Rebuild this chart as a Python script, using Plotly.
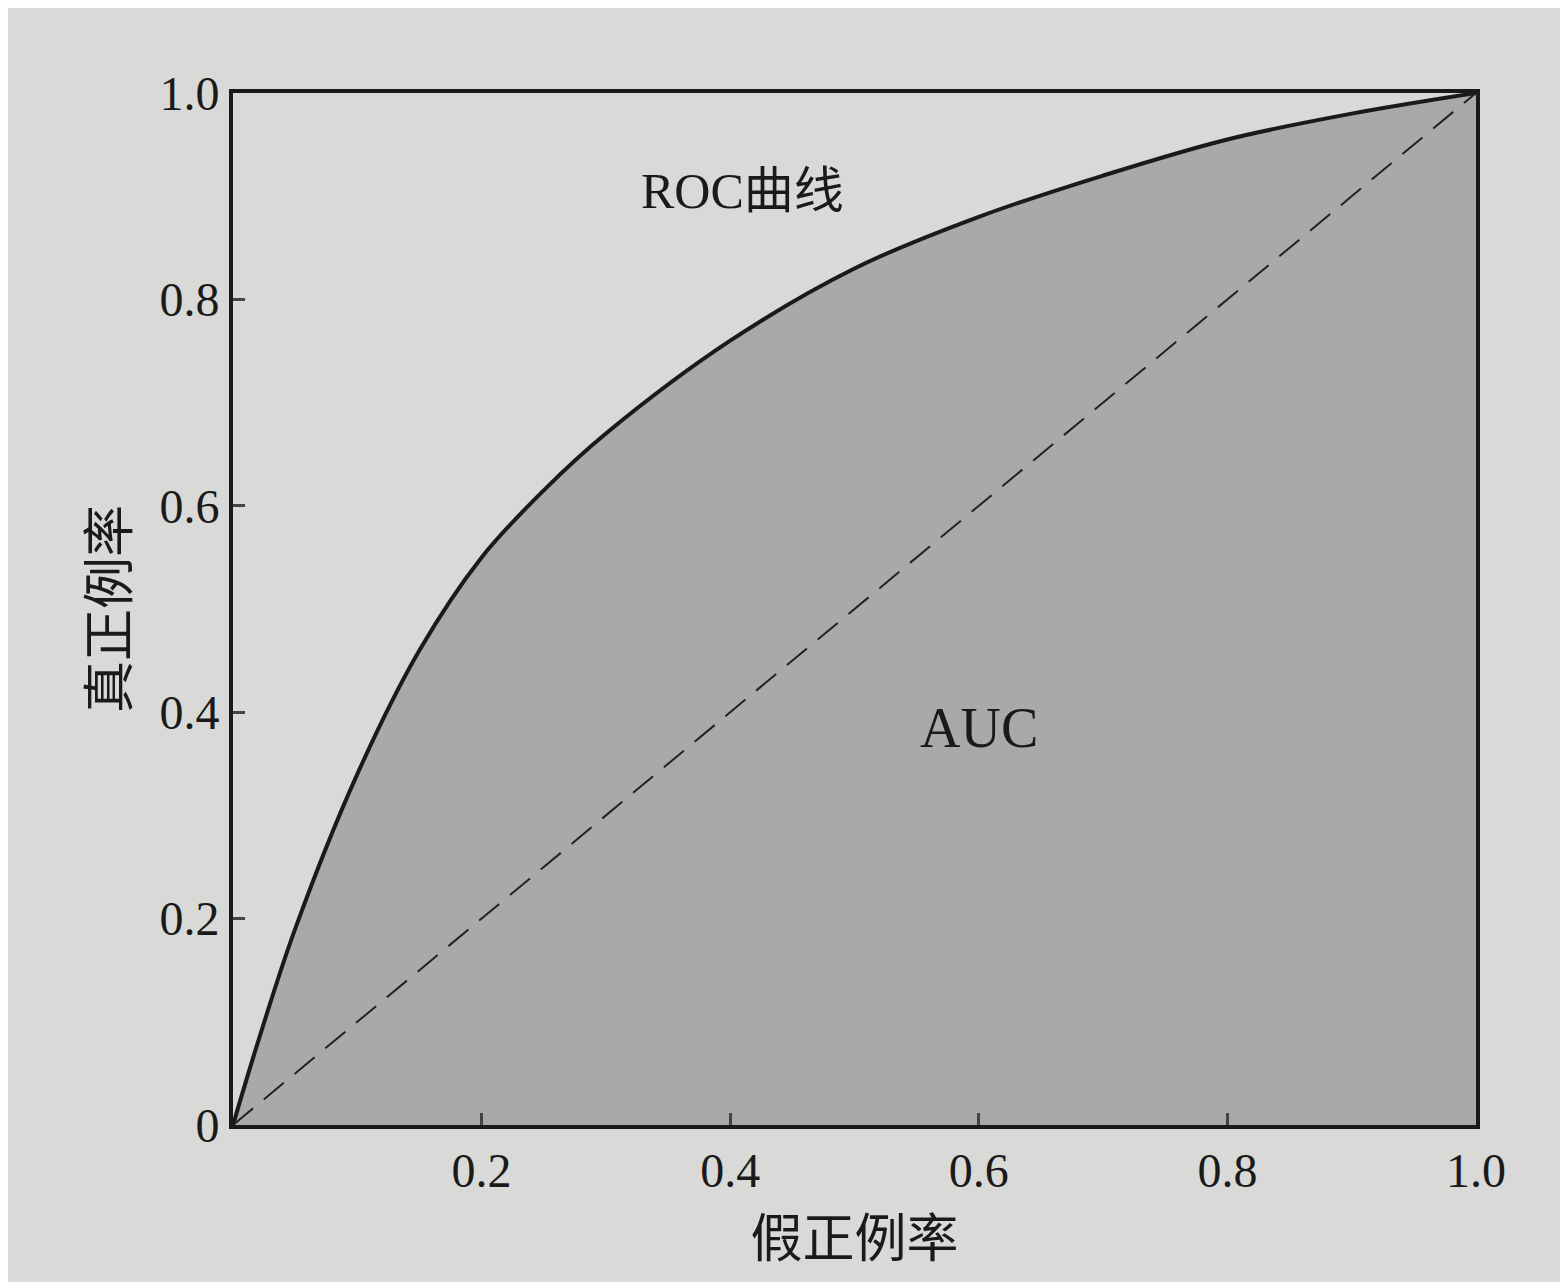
import plotly.graph_objects as go

fpr = [0, 0.02, 0.05, 0.1, 0.15, 0.2, 0.25, 0.3, 0.4, 0.5, 0.6, 0.7, 0.8, 0.9, 1.0]
tpr = [0, 0.08, 0.19, 0.34, 0.46, 0.55, 0.615, 0.67, 0.76, 0.83, 0.88, 0.92, 0.955, 0.98, 1.0]
diag = [0, 1]
xticks = [0.2, 0.4, 0.6, 0.8, 1.0]
xlabels = ['0.2', '0.4', '0.6', '0.8', '1.0']
yticks = [0, 0.2, 0.4, 0.6, 0.8, 1.0]
ylabels = ['0', '0.2', '0.4', '0.6', '0.8', '1.0']

fig = go.Figure()
fig.add_trace(go.Scatter(x=fpr, y=tpr, mode='lines', fill='tozeroy',
                         fillcolor='#a9a9a7',
                         line={'color': '#1a1a1a', 'width': 4, 'shape': 'spline'}))
fig.add_trace(go.Scatter(x=diag, y=diag, mode='lines',
                         line={'color': '#222', 'width': 2, 'dash': '26px,14px'}))

fig.add_annotation(x=0.41, y=0.905, text='ROC曲线', showarrow=False, font_size=50)
fig.add_annotation(x=0.6, y=0.385, text='AUC', showarrow=False, font_size=56)

fig.update_layout(
    width=1568, height=1282,
    showlegend=False,
    paper_bgcolor='#d9d9d7',
    plot_bgcolor='#d9d9d7',
    margin={'l': 225, 'r': 100, 't': 85, 'b': 165},
    font={'family': 'Liberation Serif, Noto Sans CJK SC', 'color': '#1a1a1a', 'size': 48},
    xaxis={'range': [0, 1], 'tickvals': xticks, 'ticktext': xlabels, 'ticks': 'inside',
           'ticklen': 12, 'tickwidth': 3, 'showgrid': False, 'zeroline': False,
           'showline': True, 'linewidth': 4, 'linecolor': '#1a1a1a', 'mirror': True,
           'title': {'text': '假正例率', 'font': {'family': 'Noto Sans CJK SC', 'size': 52}}},
    yaxis={'range': [0, 1], 'tickvals': yticks, 'ticktext': ylabels, 'ticks': 'inside',
           'ticklen': 12, 'tickwidth': 3, 'showgrid': False, 'zeroline': False,
           'showline': True, 'linewidth': 4, 'linecolor': '#1a1a1a', 'mirror': True,
           'title': {'text': '真正例率', 'font': {'family': 'Noto Sans CJK SC', 'size': 52}}},
)

fig.write_html('out.html')
